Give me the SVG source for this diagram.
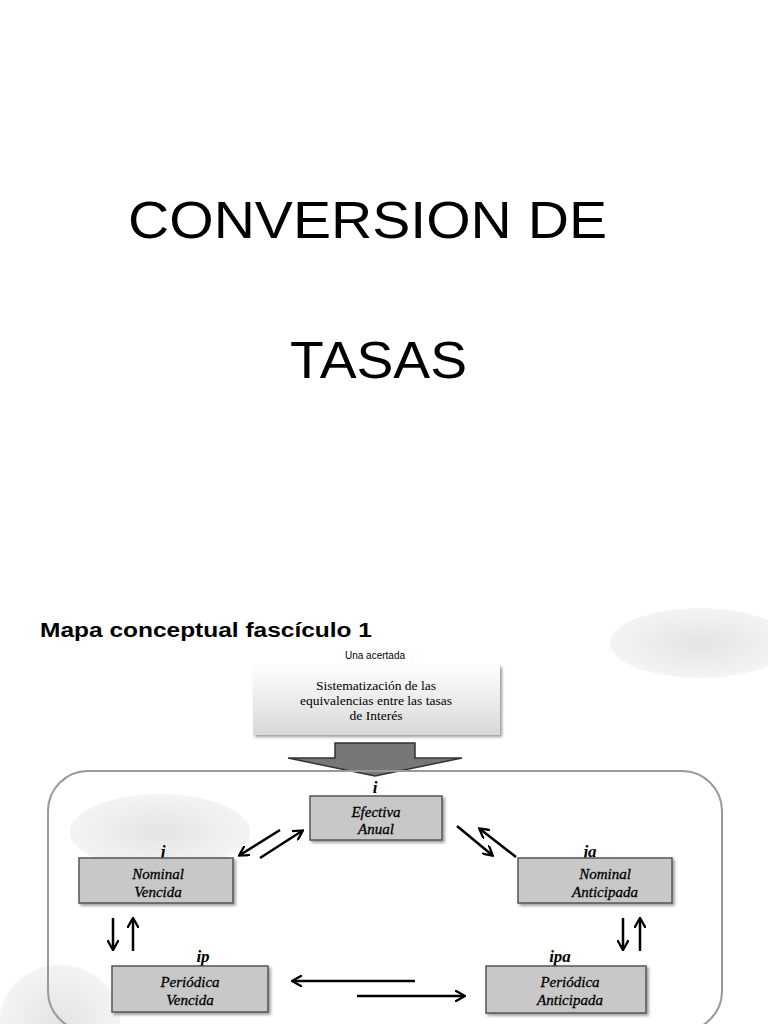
<svg xmlns="http://www.w3.org/2000/svg" width="768" height="1024" viewBox="0 0 768 1024">
<defs>
<marker id="ah" viewBox="0 0 10 10" refX="8" refY="5" markerWidth="4.5" markerHeight="4.5" orient="auto-start-reverse"><path d="M0,0 L9,5 L0,10" fill="none" stroke="#000" stroke-width="2"/></marker>
<linearGradient id="bg" x1="0" y1="0" x2="0" y2="1"><stop offset="0" stop-color="#fff"/><stop offset="1" stop-color="#d8d8d8"/></linearGradient>
<radialGradient id="el"><stop offset="0" stop-color="#e4e4e4"/><stop offset="1" stop-color="#f4f4f4"/></radialGradient>
<filter id="sh"><feDropShadow dx="2" dy="2" stdDeviation="1.5" flood-opacity="0.4"/></filter>
</defs>
<style>
.t{font-family:"Liberation Sans",Arial,sans-serif;fill:#000}
.b{fill:#c8c8c8;stroke:#555;stroke-width:1.5;filter:url(#sh)}
.n{font-family:"Liberation Serif","Times New Roman",serif;font-style:italic;font-size:15px;text-anchor:middle;stroke:#000;stroke-width:0.3}
.l{font-family:"Liberation Serif","Times New Roman",serif;font-style:italic;font-weight:bold;font-size:17px;text-anchor:middle}
.c{stroke:#000;stroke-width:2.5;fill:none;marker-end:url(#ah)}
.s{font-family:"Liberation Serif",serif;font-size:13.5px;text-anchor:middle}
</style>
<rect width="768" height="1024" fill="#fff"/>
<text class="t" x="128" y="238" font-size="52" textLength="479" lengthAdjust="spacingAndGlyphs">CONVERSION DE</text>
<text class="t" x="290" y="378" font-size="52" textLength="177" lengthAdjust="spacingAndGlyphs">TASAS</text>
<ellipse cx="700" cy="643" rx="90" ry="35" fill="url(#el)"/>
<ellipse cx="160" cy="832" rx="90" ry="38" fill="url(#el)"/>
<ellipse cx="60" cy="1020" rx="60" ry="55" fill="url(#el)"/>
<text class="t" x="40" y="637" font-size="20" font-weight="bold" textLength="332" lengthAdjust="spacingAndGlyphs">Mapa conceptual fascículo 1</text>
<text class="t" x="375" y="659" font-size="10" text-anchor="middle">Una acertada</text>
<g id="top"><rect x="253" y="665" width="247" height="70" fill="url(#bg)" filter="url(#sh)"/>
<text class="s" x="376" y="690">Sistematización de las</text>
<text class="s" x="376" y="705">equivalencias entre las tasas</text>
<text class="s" x="376" y="720">de Interés</text></g>
<path d="M335,743 H415 V758 H462 L375,776 L288,758 H335 Z" fill="#777" stroke="#333" stroke-width="1.5"/>
<rect x="48" y="771" width="674" height="260" rx="40" fill="none" stroke="#999" stroke-width="2"/>
<g id="i"><text class="l" x="375" y="793">i</text><rect class="b" x="310" y="796" width="132" height="44"/><text class="n" x="376" y="817">Efectiva</text><text class="n" x="376" y="834">Anual</text></g>
<g id="j"><text class="l" x="163" y="857">j</text><rect class="b" x="79" y="858" width="154" height="45"/><text class="n" x="158" y="879">Nominal</text><text class="n" x="158" y="897">Vencida</text></g>
<g id="ja"><text class="l" x="590" y="857">ja</text><rect class="b" x="518" y="858" width="154" height="45"/><text class="n" x="605" y="879">Nominal</text><text class="n" x="605" y="897">Anticipada</text></g>
<g id="ip"><text class="l" x="203" y="962">ip</text><rect class="b" x="112" y="966" width="156" height="46"/><text class="n" x="190" y="987">Periódica</text><text class="n" x="190" y="1005">Vencida</text></g>
<g id="ipa"><text class="l" x="560" y="962">ipa</text><rect class="b" x="486" y="966" width="160" height="47"/><text class="n" x="570" y="987">Periódica</text><text class="n" x="570" y="1005">Anticipada</text></g>
<g id="connectors">
<path class="c" d="M280,830 L240,855"/><path class="c" d="M260,858 L302,831"/>
<path class="c" d="M457,826 L492,855"/><path class="c" d="M516,857 L480,829"/>
<path class="c" d="M113,918 V949"/><path class="c" d="M133,951 V919"/>
<path class="c" d="M623,918 V949"/><path class="c" d="M640,951 V919"/>
<path class="c" d="M415,981 H293"/><path class="c" d="M357,996 H464"/>
</g>
</svg>
